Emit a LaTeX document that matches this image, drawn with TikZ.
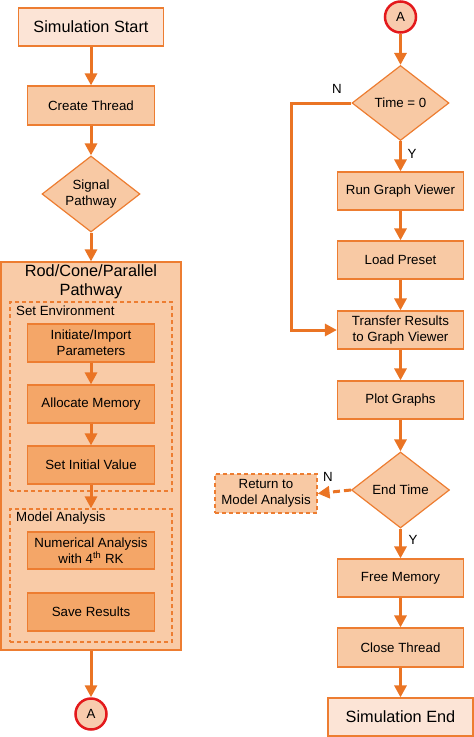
\documentclass[tikz,border=0pt]{standalone}
\usepackage{fontspec}
\setmainfont{Liberation Sans}
\usetikzlibrary{shapes.geometric,arrows.meta}
\definecolor{bord}{HTML}{ED7D31}
\definecolor{arr}{HTML}{EA7424}
\definecolor{lightf}{HTML}{FCE4D6}
\definecolor{medf}{HTML}{F8C9A4}
\definecolor{darkf}{HTML}{F4A668}
\definecolor{outerf}{HTML}{F9CBA7}
\definecolor{ared}{HTML}{E3191C}
\definecolor{cfill}{HTML}{F8CBAD}
\begin{document}
\begin{tikzpicture}[x=1pt,y=-1pt,
  box/.style={draw=bord, line width=1.2pt, rectangle, inner sep=0pt, align=center, font=\fontsize{13.3}{16}\selectfont},
  lightbox/.style={box, fill=lightf, font=\fontsize{16.3}{19}\selectfont, minimum width=145pt, minimum height=38pt},
  medbox/.style={box, fill=medf, minimum width=126pt, minimum height=38pt},
  darkbox/.style={box, fill=darkf, minimum width=127pt, minimum height=38pt},
  dia/.style={draw=bord, line width=1.2pt, diamond, fill=medf, inner sep=0pt, aspect=1.3, align=center, font=\fontsize{13.3}{16}\selectfont, minimum width=98pt, minimum height=76pt},
  conn/.style={draw=arr, line width=3pt, -{Triangle[length=12pt,width=12pt]}},
  circ/.style={circle, draw=ared, line width=2.5pt, fill=cfill, minimum size=31pt, inner sep=0pt, font=\fontsize{13.3}{16}\selectfont},
  lab/.style={font=\fontsize{13.3}{16}\selectfont, inner sep=0pt},
  grp/.style={draw=bord, line width=1.2pt, dash pattern=on 4pt off 3pt, rectangle, inner sep=0pt}
]
\useasboundingbox (0,0) rectangle (474,737);

% ---------- left column ----------
\node[lightbox] (start) at (91,27) {Simulation Start};
\node[medbox, minimum width=127pt, minimum height=39pt] (create) at (91,105.5) {Create Thread};
\node[dia] (signal) at (91,194) {Signal\\Pathway};

\node[draw=bord, fill=outerf, line width=1.2pt, rectangle, inner sep=0pt, minimum width=180pt, minimum height=388pt] (outer) at (91,456) {};
\node[lab, align=center, font=\fontsize{16.3}{19}\selectfont] (title) at (91,282) {Rod/Cone/Parallel\\Pathway};

\node[grp, minimum width=162pt, minimum height=189pt] (env) at (91,396.5) {};
\node[lab, anchor=west] (envlab) at (16,311) {Set Environment};
\node[darkbox] (init) at (91,343) {Initiate/Import\\Parameters};
\node[darkbox] (alloc) at (91,404) {Allocate Memory};
\node[darkbox] (setinit) at (91,465) {Set Initial Value};

\node[grp, minimum width=162pt, minimum height=133pt] (model) at (91,575.5) {};
\node[lab, anchor=west] (modlab) at (16,518) {Model Analysis};
\node[darkbox, minimum height=37pt] (num) at (91,550.5) {Numerical Analysis\\with 4\textsuperscript{th} RK};
\node[darkbox] (save) at (91,612) {Save Results};

\node[circ] (a1) at (91,714) {A};

\draw[conn] (start) -- (create);
\draw[conn] (create) -- (signal);
\draw[conn] (signal.south) -- (outer.north);
\draw[conn] (init) -- (alloc);
\draw[conn] (alloc) -- (setinit);
\draw[conn] (setinit.south) -- (model.north);
\draw[conn] (outer.south) -- (a1.north);

% ---------- right column ----------
\node[circ] (a2) at (400.5,17) {A};
\node[dia, minimum width=97pt, minimum height=75pt] (time) at (400.5,103) {Time = 0};
\node[medbox] (rgv) at (400.5,191) {Run Graph Viewer};
\node[medbox] (load) at (400.5,260) {Load Preset};
\node[medbox] (transfer) at (400.5,330) {Transfer Results\\to Graph Viewer};
\node[medbox] (plot) at (400.5,400) {Plot Graphs};
\node[dia] (endt) at (400.5,490) {End Time};
\node[box, fill=medf, dash pattern=on 4pt off 3pt, minimum width=102pt, minimum height=39pt] (ret) at (266,493.5) {Return to\\Model Analysis};
\node[medbox] (free) at (400.5,578) {Free Memory};
\node[medbox, minimum height=39pt] (close) at (400.5,647.5) {Close Thread};
\node[lightbox] (send) at (400.5,717) {Simulation End};

\draw[conn] (a2) -- (time);
\draw[conn] (time.south) -- (rgv.north);
\draw[conn] (rgv) -- (load);
\draw[conn] (load) -- (transfer);
\draw[conn] (time.west) -- ++(-60,0) |- (transfer.west);
\draw[conn] (transfer) -- (plot);
\draw[conn] (plot.south) -- (endt.north);
\draw[conn, dash pattern=on 7pt off 4pt] (endt.west) -- (ret.east);
\draw[conn] (endt.south) -- (free.north);
\draw[conn] (free) -- (close);
\draw[conn] (close) -- (send);

\node[lab] (n1) at (337,89) {N};
\node[lab] (y1) at (412,154) {Y};
\node[lab] (n2) at (328,477) {N};
\node[lab] (y2) at (413,540) {Y};
\end{tikzpicture}
\end{document}
